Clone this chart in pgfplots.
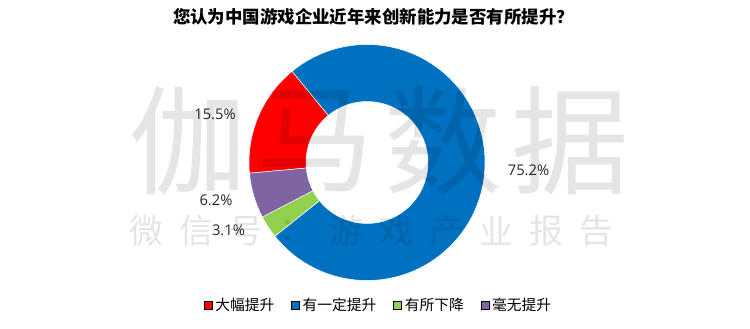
\documentclass[border=0pt]{standalone}
\usepackage{pgfplots}
\pgfplotsset{compat=1.18}
\usepackage{pgfplotstable}
\usepackage{fontspec}
\setmainfont{Open Sans}
\newfontfamily\cjk{Noto Sans CJK SC}
\definecolor{cRed}{HTML}{FF0000}
\definecolor{cBlue}{HTML}{0070C0}
\definecolor{cGreen}{HTML}{92D050}
\definecolor{cPurple}{HTML}{8064A2}

\pgfplotstableread[col sep=comma]{
value,col,lx,ly
15.5,cRed,215,214
75.2,cBlue,528.5,158
3.1,cGreen,228.5,98
6.2,cPurple,216,128
}\donutdata

\begin{document}
\begin{tikzpicture}
% compute slice angles (clockwise from the first slice angle)
\xdef\angcur{185.2}
\foreach \i in {0,...,3}{%
  \pgfplotstablegetelem{\i}{value}\of\donutdata
  \edef\vv{\pgfplotsretval}%
  \pgfmathsetmacro{\angend}{\angcur-3.6*\vv}%
  \expandafter\xdef\csname sA\i\endcsname{\angcur}%
  \expandafter\xdef\csname sE\i\endcsname{\angend}%
  \expandafter\xdef\csname sV\i\endcsname{\vv}%
  \pgfplotstablegetelem{\i}{col}\of\donutdata
  \expandafter\xdef\csname sC\i\endcsname{\pgfplotsretval}%
  \pgfplotstablegetelem{\i}{lx}\of\donutdata
  \expandafter\xdef\csname sX\i\endcsname{\pgfplotsretval}%
  \pgfplotstablegetelem{\i}{ly}\of\donutdata
  \expandafter\xdef\csname sY\i\endcsname{\pgfplotsretval}%
  \xdef\angcur{\angend}%
}
\begin{axis}[
  width=750bp, height=328bp, scale only axis,
  xmin=0, xmax=750, ymin=0, ymax=328,
  hide axis, clip=false,
  legend columns=-1,
  legend cell align=left,
  legend image code/.code={\fill[#1] (0bp,-4bp) rectangle (8bp,4bp);},
  legend style={draw=none, fill=none, at={(axis cs:378.5,23)}, anchor=center,
    font=\cjk\fontsize{14.8}{17}\selectfont,
    /tikz/every odd column/.append style={column sep=1bp},
    /tikz/every even column/.append style={column sep=15bp}},
]
\pgfplotsinvokeforeach{0,...,3}{
  \fill[fill=\csname sC#1\endcsname, draw=white, line width=0.5pt]
    ([shift={(\csname sA#1\endcsname:118bp)}]axis cs:367,165.5)
    arc[start angle=\csname sA#1\endcsname, end angle=\csname sE#1\endcsname, radius=118bp]
    -- ([shift={(\csname sE#1\endcsname:61bp)}]axis cs:367,165.5)
    arc[start angle=\csname sE#1\endcsname, end angle=\csname sA#1\endcsname, radius=61bp]
    -- cycle;
  \node[font=\fontsize{14.8}{17}\selectfont, text=black!85] at (axis cs:\csname sX#1\endcsname,\csname sY#1\endcsname) {\csname sV#1\endcsname\%};
}
\addlegendimage{fill=cRed}\addlegendentry{大幅提升}
\addlegendimage{fill=cBlue}\addlegendentry{有一定提升}
\addlegendimage{fill=cGreen}\addlegendentry{有所下降}
\addlegendimage{fill=cPurple}\addlegendentry{毫无提升}
% title
\node[font=\cjk\bfseries\fontsize{17.5}{20}\selectfont] at (axis cs:373.5,311) {您认为中国游戏企业近年来创新能力是否有所提升？};
% watermark
\begin{scope}[opacity=0.10, every node/.style={text=black, inner sep=0pt}]
\node[font=\cjk\fontsize{118}{120}\selectfont] at (axis cs:188,187) {伽};
\node[font=\cjk\fontsize{118}{120}\selectfont] at (axis cs:315.5,187) {马};
\node[font=\cjk\fontsize{118}{120}\selectfont] at (axis cs:443,187) {数};
\node[font=\cjk\fontsize{118}{120}\selectfont] at (axis cs:570.5,187) {据};
\node[font=\cjk\fontsize{34}{36}\selectfont] at (axis cs:146,97) {微};
\node[font=\cjk\fontsize{34}{36}\selectfont] at (axis cs:196,97) {信};
\node[font=\cjk\fontsize{34}{36}\selectfont] at (axis cs:246,97) {号};
\node[font=\cjk\fontsize{34}{36}\selectfont] at (axis cs:296,97) {：};
\node[font=\cjk\fontsize{34}{36}\selectfont] at (axis cs:346,97) {游};
\node[font=\cjk\fontsize{34}{36}\selectfont] at (axis cs:396,97) {戏};
\node[font=\cjk\fontsize{34}{36}\selectfont] at (axis cs:446,97) {产};
\node[font=\cjk\fontsize{34}{36}\selectfont] at (axis cs:496,97) {业};
\node[font=\cjk\fontsize{34}{36}\selectfont] at (axis cs:546,97) {报};
\node[font=\cjk\fontsize{34}{36}\selectfont] at (axis cs:596,97) {告};
\end{scope}
\end{axis}
\pgfresetboundingbox
\path (current axis.south west) rectangle (current axis.north east);
\end{tikzpicture}
\end{document}
